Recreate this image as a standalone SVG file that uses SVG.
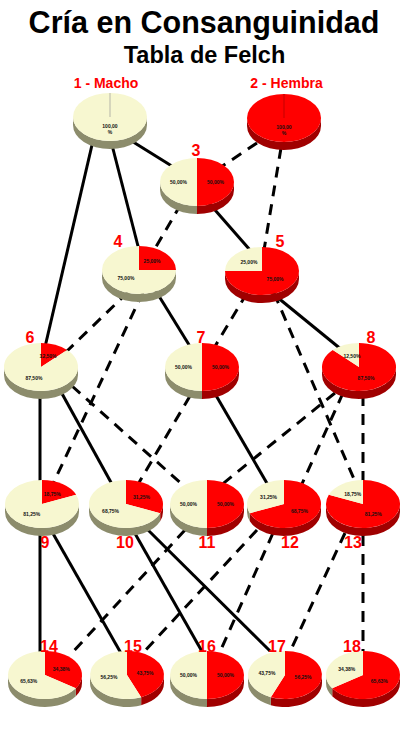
<svg xmlns="http://www.w3.org/2000/svg" width="400" height="744" viewBox="0 0 400 744">
<style>
.t{font-family:"Liberation Sans",Arial,sans-serif;font-weight:bold;text-anchor:middle}
.num{font-family:"Liberation Sans",Arial,sans-serif;font-weight:bold;font-size:16px;fill:#ff0000;text-anchor:middle}
.pct{font-family:"Liberation Sans",Arial,sans-serif;font-size:5px;font-weight:bold;fill:#111;text-anchor:middle}
.cr{fill:#f7f7d0}
.rd{fill:#ff0000}
.crs{fill:#8c8c6c}
.rds{fill:#a00000}
.s{stroke:#000;stroke-width:3;fill:none}
.d{stroke:#000;stroke-width:3;fill:none;stroke-dasharray:11 8}
</style>
<rect width="400" height="744" fill="#fff"/>
<text class="t" x="204" y="33" font-size="30.5">Cría en Consanguinidad</text>
<text class="t" x="204.5" y="63" font-size="23.5">Tabla de Felch</text>
<g id="connectors">
<line class="s" x1="130" y1="140" x2="175" y2="168"/>
<line class="s" x1="112" y1="145" x2="139" y2="250"/>
<line class="s" x1="92" y1="145" x2="45" y2="347"/>
<line class="s" x1="208" y1="202" x2="250" y2="250"/>
<line class="s" x1="154" y1="288" x2="191" y2="348"/>
<line class="s" x1="266" y1="288" x2="342" y2="350"/>
<line class="s" x1="40" y1="395" x2="40" y2="484"/>
<line class="s" x1="60" y1="390" x2="113" y2="486"/>
<line class="s" x1="214" y1="392" x2="268" y2="485"/>
<line class="s" x1="40" y1="530" x2="40" y2="655"/>
<line class="s" x1="51" y1="530" x2="122" y2="655"/>
<line class="s" x1="133" y1="530" x2="204" y2="655"/>
<line class="s" x1="146" y1="528" x2="270" y2="651"/>
<line class="d" x1="257" y1="143" x2="212" y2="173"/>
<line class="d" x1="281" y1="148" x2="264" y2="250"/>
<line class="d" x1="181" y1="204" x2="153" y2="252"/>
<line class="d" x1="128" y1="292" x2="66" y2="352"/>
<line class="d" x1="143" y1="292" x2="52" y2="486"/>
<line class="d" x1="247" y1="293" x2="214" y2="348"/>
<line class="d" x1="274" y1="293" x2="357" y2="486"/>
<line class="d" x1="72" y1="386" x2="184" y2="486"/>
<line class="d" x1="190" y1="396" x2="137" y2="486"/>
<line class="d" x1="335" y1="393" x2="220" y2="486"/>
<line class="d" x1="343" y1="393" x2="301" y2="486"/>
<line class="d" x1="363" y1="395" x2="363" y2="484"/>
<line class="d" x1="185" y1="530" x2="71" y2="654"/>
<line class="d" x1="257" y1="530" x2="142" y2="654"/>
<line class="d" x1="273" y1="533" x2="219" y2="654"/>
<line class="d" x1="345" y1="533" x2="289" y2="654"/>
<line class="d" x1="363" y1="535" x2="363" y2="652"/>
</g>
<g id="n1">
<path class="crs" d="M147,117 A37,24 0 0 1 73,117 L73,125 A37,24 0 0 0 147,125 Z"/>
<ellipse class="cr" cx="110" cy="117" rx="37" ry="24"/>
<line x1="110" y1="117" x2="110" y2="93" stroke="#999" stroke-width="0.7"/>
<text class="pct" x="110" y="128">100,00</text><text class="pct" x="110" y="134">%</text>
<text class="t" x="106" y="88" font-size="14" fill="#ff0000">1 - Macho</text>
</g>
<g id="n2">
<path class="rds" d="M321,118 A37,24 0 0 1 247,118 L247,126 A37,24 0 0 0 321,126 Z"/>
<ellipse class="rd" cx="284" cy="118" rx="37" ry="24"/>
<line x1="284" y1="118" x2="284" y2="94" stroke="#a00" stroke-width="0.7"/>
<text class="pct" x="284" y="129">100,00</text><text class="pct" x="284" y="135">%</text>
<text class="t" x="286.5" y="88" font-size="14" fill="#ff0000">2 - Hembra</text>
</g>
<g id="n3">
<path class="rds" d="M234,182 A37,24 0 0 1 197,206 L197,214 A37,24 0 0 0 234,190 Z"/>
<path class="crs" d="M197,206 A37,24 0 0 1 160,182 L160,190 A37,24 0 0 0 197,214 Z"/>
<path class="rd" d="M197,182 L197,158 A37,24 0 0 1 197,206 Z"/>
<path class="cr" d="M197,182 L197,206 A37,24 0 0 1 197,158 Z"/>
<text class="pct" x="215.5" y="183.8">50,00%</text><text class="pct" x="178.5" y="183.8">50,00%</text>
<text class="num" x="196" y="156">3</text>
</g>
<g id="n4">
<path class="crs" d="M176,270 A37,24 0 0 1 102,270 L102,278 A37,24 0 0 0 176,278 Z"/>
<path class="rd" d="M139,270 L139,246 A37,24 0 0 1 176,270 Z"/>
<path class="cr" d="M139,270 L176,270 A37,24 0 1 1 139,246 Z"/>
<text class="pct" x="152.1" y="263.3">25,00%</text><text class="pct" x="125.9" y="280.3">75,00%</text>
<text class="num" x="118" y="247">4</text>
</g>
<g id="n5">
<path class="rds" d="M299,271 A37,24 0 0 1 225,271 L225,279 A37,24 0 0 0 299,279 Z"/>
<path class="rd" d="M262,271 L262,247 A37,24 0 1 1 225,271 Z"/>
<path class="cr" d="M262,271 L225,271 A37,24 0 0 1 262,247 Z"/>
<text class="pct" x="275.1" y="281.3">75,00%</text><text class="pct" x="248.9" y="264.3">25,00%</text>
<text class="num" x="280" y="247">5</text>
</g>
<g id="n6">
<path class="crs" d="M78,367 A37,24 0 0 1 4,367 L4,375 A37,24 0 0 0 78,375 Z"/>
<path class="rd" d="M41,367 L41,343 A37,24 0 0 1 67.16,350.03 Z"/>
<path class="cr" d="M41,367 L67.16,350.03 A37,24 0 1 1 41,343 Z"/>
<text class="pct" x="48.1" y="357.7">12,50%</text><text class="pct" x="33.9" y="379.9">87,50%</text>
<text class="num" x="30" y="343">6</text>
</g>
<g id="n7">
<path class="rds" d="M239,367 A37,24 0 0 1 202,391 L202,399 A37,24 0 0 0 239,375 Z"/>
<path class="crs" d="M202,391 A37,24 0 0 1 165,367 L165,375 A37,24 0 0 0 202,399 Z"/>
<path class="rd" d="M202,367 L202,343 A37,24 0 0 1 202,391 Z"/>
<path class="cr" d="M202,367 L202,391 A37,24 0 0 1 202,343 Z"/>
<text class="pct" x="220.5" y="368.8">50,00%</text><text class="pct" x="183.5" y="368.8">50,00%</text>
<text class="num" x="201" y="343">7</text>
</g>
<g id="n8">
<path class="rds" d="M396,367 A37,24 0 0 1 322,367 L322,375 A37,24 0 0 0 396,375 Z"/>
<path class="rd" d="M359,367 L359,343 A37,24 0 1 1 332.84,350.03 Z"/>
<path class="cr" d="M359,367 L332.84,350.03 A37,24 0 0 1 359,343 Z"/>
<text class="pct" x="366.1" y="379.9">87,50%</text><text class="pct" x="351.9" y="357.7">12,50%</text>
<text class="num" x="371" y="343">8</text>
</g>
<g id="n9">
<path class="crs" d="M79,504 A37,24 0 0 1 5,504 L5,512 A37,24 0 0 0 79,512 Z"/>
<path class="rd" d="M42,504 L42,480 A37,24 0 0 1 76.18,494.82 Z"/>
<path class="cr" d="M42,504 L76.18,494.82 A37,24 0 1 1 42,480 Z"/>
<text class="pct" x="52.3" y="495.8">18,75%</text><text class="pct" x="31.7" y="515.8">81,25%</text>
<text class="num" x="45" y="548">9</text>
</g>
<g id="n10">
<path class="rds" d="M163,504 A37,24 0 0 1 160.18,513.18 L160.18,521.18 A37,24 0 0 0 163,512 Z"/>
<path class="crs" d="M160.18,513.18 A37,24 0 0 1 89,504 L89,512 A37,24 0 0 0 160.18,521.18 Z"/>
<path class="rd" d="M126,504 L126,480 A37,24 0 0 1 160.18,513.18 Z"/>
<path class="cr" d="M126,504 L160.18,513.18 A37,24 0 1 1 126,480 Z"/>
<text class="pct" x="141.4" y="499.1">31,25%</text><text class="pct" x="110.6" y="512.5">68,75%</text>
<text class="num" x="125" y="548">10</text>
</g>
<g id="n11">
<path class="rds" d="M244,504 A37,24 0 0 1 207,528 L207,536 A37,24 0 0 0 244,512 Z"/>
<path class="crs" d="M207,528 A37,24 0 0 1 170,504 L170,512 A37,24 0 0 0 207,536 Z"/>
<path class="rd" d="M207,504 L207,480 A37,24 0 0 1 207,528 Z"/>
<path class="cr" d="M207,504 L207,528 A37,24 0 0 1 207,480 Z"/>
<text class="pct" x="225.5" y="505.8">50,00%</text><text class="pct" x="188.5" y="505.8">50,00%</text>
<text class="num" x="207" y="548">11</text>
</g>
<g id="n12">
<path class="rds" d="M321,504 A37,24 0 0 1 249.82,513.18 L249.82,521.18 A37,24 0 0 0 321,512 Z"/>
<path class="crs" d="M249.82,513.18 A37,24 0 0 1 247,504 L247,512 A37,24 0 0 0 249.82,521.18 Z"/>
<path class="rd" d="M284,504 L284,480 A37,24 0 1 1 249.82,513.18 Z"/>
<path class="cr" d="M284,504 L249.82,513.18 A37,24 0 0 1 284,480 Z"/>
<text class="pct" x="299.4" y="512.5">68,75%</text><text class="pct" x="268.6" y="499.1">31,25%</text>
<text class="num" x="290" y="548">12</text>
</g>
<g id="n13">
<path class="rds" d="M400,504 A37,24 0 0 1 326,504 L326,512 A37,24 0 0 0 400,512 Z"/>
<path class="rd" d="M363,504 L363,480 A37,24 0 1 1 328.82,494.82 Z"/>
<path class="cr" d="M363,504 L328.82,494.82 A37,24 0 0 1 363,480 Z"/>
<text class="pct" x="373.3" y="515.8">81,25%</text><text class="pct" x="352.7" y="495.8">18,75%</text>
<text class="num" x="353" y="548">13</text>
</g>
<g id="n14">
<path class="rds" d="M82,675 A37,24 0 0 1 75.77,688.33 L75.77,696.33 A37,24 0 0 0 82,683 Z"/>
<path class="crs" d="M75.77,688.33 A37,24 0 0 1 8,675 L8,683 A37,24 0 0 0 75.77,696.33 Z"/>
<path class="rd" d="M45,675 L45,651 A37,24 0 0 1 75.77,688.33 Z"/>
<path class="cr" d="M45,675 L75.77,688.33 A37,24 0 1 1 45,651 Z"/>
<text class="pct" x="61.3" y="671.1">34,38%</text><text class="pct" x="28.7" y="682.5">65,63%</text>
<text class="num" x="49" y="652">14</text>
</g>
<g id="n15">
<path class="rds" d="M164,675 A37,24 0 0 1 141.16,697.17 L141.16,705.17 A37,24 0 0 0 164,683 Z"/>
<path class="crs" d="M141.16,697.17 A37,24 0 0 1 90,675 L90,683 A37,24 0 0 0 141.16,705.17 Z"/>
<path class="rd" d="M127,675 L127,651 A37,24 0 0 1 141.16,697.17 Z"/>
<path class="cr" d="M127,675 L141.16,697.17 A37,24 0 1 1 127,651 Z"/>
<text class="pct" x="145.1" y="674.5">43,75%</text><text class="pct" x="108.9" y="679.1">56,25%</text>
<text class="num" x="133" y="652">15</text>
</g>
<g id="n16">
<path class="rds" d="M244,675 A37,24 0 0 1 207,699 L207,707 A37,24 0 0 0 244,683 Z"/>
<path class="crs" d="M207,699 A37,24 0 0 1 170,675 L170,683 A37,24 0 0 0 207,707 Z"/>
<path class="rd" d="M207,675 L207,651 A37,24 0 0 1 207,699 Z"/>
<path class="cr" d="M207,675 L207,699 A37,24 0 0 1 207,651 Z"/>
<text class="pct" x="225.5" y="676.8">50,00%</text><text class="pct" x="188.5" y="676.8">50,00%</text>
<text class="num" x="207" y="652">16</text>
</g>
<g id="n17">
<path class="rds" d="M322,675 A37,24 0 0 1 270.84,697.17 L270.84,705.17 A37,24 0 0 0 322,683 Z"/>
<path class="crs" d="M270.84,697.17 A37,24 0 0 1 248,675 L248,683 A37,24 0 0 0 270.84,705.17 Z"/>
<path class="rd" d="M285,675 L285,651 A37,24 0 1 1 270.84,697.17 Z"/>
<path class="cr" d="M285,675 L270.84,697.17 A37,24 0 0 1 285,651 Z"/>
<text class="pct" x="303.1" y="679.1">56,25%</text><text class="pct" x="266.9" y="674.5">43,75%</text>
<text class="num" x="277" y="652">17</text>
</g>
<g id="n18">
<path class="rds" d="M400,675 A37,24 0 0 1 332.23,688.33 L332.23,696.33 A37,24 0 0 0 400,683 Z"/>
<path class="crs" d="M332.23,688.33 A37,24 0 0 1 326,675 L326,683 A37,24 0 0 0 332.23,696.33 Z"/>
<path class="rd" d="M363,675 L363,651 A37,24 0 1 1 332.23,688.33 Z"/>
<path class="cr" d="M363,675 L332.23,688.33 A37,24 0 0 1 363,651 Z"/>
<text class="pct" x="379.3" y="682.5">65,63%</text><text class="pct" x="346.7" y="671.1">34,38%</text>
<text class="num" x="352" y="652">18</text>
</g>
</svg>
